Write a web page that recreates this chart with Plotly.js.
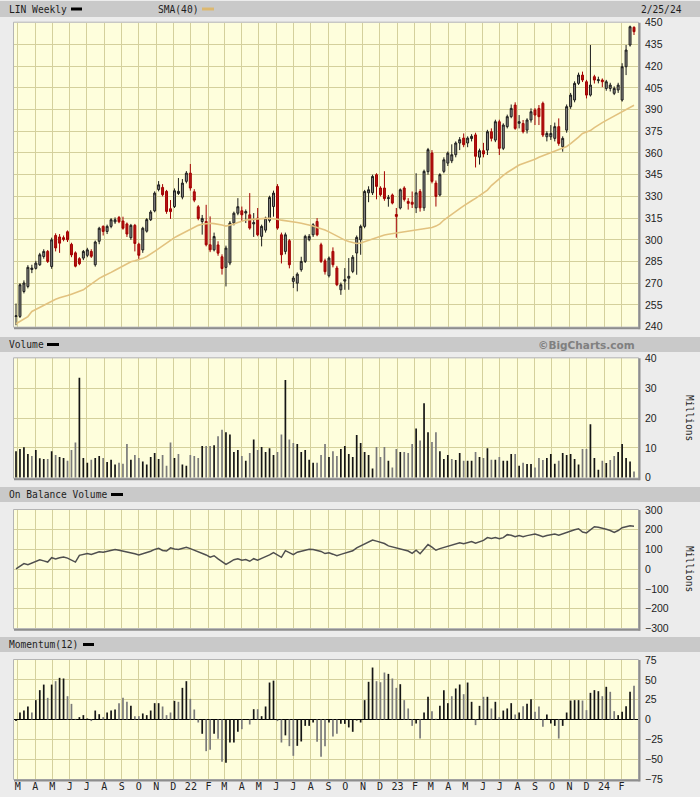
<!DOCTYPE html>
<html>
<head>
<meta charset="utf-8">
<script src="https://cdn.plot.ly/plotly-3.0.1.min.js"></script>
<style>
html,body{margin:0;padding:0;background:#ececec;}
#chart{width:700px;height:797px;}
</style>
</head>
<body>
<div id="chart"></div>
<script>
// ---------------- DATA ----------------
const symbol = "LIN";
const asOf = "2/25/24";
const firstWeekEnding = "2021-02-26";

const open = [247.0,247.1,264.3,267.8,279.5,280.3,282.8,288.5,292.0,281.6,
303.0,302.0,301.5,305.6,296.9,291.0,287.0,287.4,289.3,292.0,
282.8,299.0,309.3,305.8,309.3,312.4,315.5,313.0,311.0,301.5,
310.0,297.0,293.0,306.0,313.9,320.0,334.8,336.2,333.5,321.5,
323.0,332.0,329.5,340.4,346.1,333.2,322.8,312.7,312.7,296.6,
293.1,296.5,288.3,281.0,284.0,311.6,318.4,320.1,318.5,317.3,
311.0,315.0,302.4,306.7,313.4,323.0,336.9,303.5,292.0,299.4,
271.3,270.1,279.4,285.1,300.1,303.5,312.7,296.6,285.5,275.2,
292.0,280.5,265.5,271.5,273.5,278.2,290.9,300.0,309.3,332.5,
332.5,345.0,335.8,335.8,328.5,331.0,317.5,322.0,335.8,326.5,
326.0,322.1,333.4,322.1,347.1,360.0,339.2,331.0,347.3,353.0,
354.6,358.8,366.9,370.3,366.9,370.0,372.5,357.1,361.6,362.0,
374.7,368.9,381.6,363.2,378.2,385.1,393.1,380.5,380.4,375.8,
382.8,389.7,390.8,394.3,371.2,371.2,370.1,378.2,364.3,375.8,
392.0,396.6,408.1,413.8,409.2,400.0,412.7,410.0,410.4,404.6,
404.6,401.2,403.5,396.6,419.6,434.6,446.8];
const high = [256.0,270.0,272.0,282.5,282.8,285.5,291.0,293.5,293.0,301.5,
304.5,304.0,303.0,306.5,298.0,292.0,288.0,293.0,294.5,293.5,
299.5,309.0,310.0,310.5,315.0,315.5,316.5,316.0,312.0,311.0,
311.0,298.0,309.0,315.0,320.5,333.5,340.6,338.5,334.5,327.5,
335.5,342.7,342.0,347.5,352.4,335.0,324.0,317.2,324.2,316.2,
305.0,299.0,290.0,296.0,313.0,319.5,328.8,323.0,321.0,332.3,
318.5,322.0,310.5,316.0,330.5,334.0,338.5,305.0,305.0,300.5,
275.0,277.5,288.3,303.5,304.0,311.5,315.0,298.0,287.0,288.5,
294.8,282.0,270.5,280.5,287.4,289.5,303.0,310.5,334.5,337.0,
345.0,346.0,337.0,347.4,331.0,332.0,322.0,335.5,337.0,328.8,
333.4,346.0,335.0,348.5,363.5,362.0,341.0,346.0,357.0,361.0,
366.0,368.0,371.0,373.5,371.5,373.0,374.0,363.0,367.0,376.0,
377.0,383.0,383.0,380.5,386.5,393.5,395.0,386.2,382.8,384.0,
390.8,391.0,393.1,395.5,375.0,379.3,381.0,383.9,371.5,393.5,
401.5,409.5,415.5,416.2,410.5,434.6,414.0,412.7,411.5,410.5,
408.5,406.0,408.5,422.0,434.6,448.0,447.5];
const low = [241.0,246.0,263.0,266.5,277.0,279.5,282.0,287.0,284.0,280.0,
292.0,291.0,299.0,298.5,288.0,281.0,282.5,286.0,288.0,287.5,
281.5,297.0,303.0,304.0,308.0,311.0,311.5,307.0,302.0,300.0,
292.0,286.0,291.0,305.0,313.0,319.0,333.5,330.0,318.0,314.5,
322.0,331.0,328.0,339.0,334.0,326.0,313.5,303.6,295.5,291.5,
292.0,289.0,276.0,267.8,282.5,310.0,317.0,313.0,311.6,307.0,
302.0,302.5,295.5,305.0,312.0,316.0,307.0,283.7,290.0,280.3,
266.7,264.4,278.0,284.0,299.0,302.0,302.5,284.0,276.0,274.0,
281.0,268.0,262.0,265.5,265.5,277.0,275.9,289.7,308.0,326.0,
331.0,328.0,330.0,327.0,322.9,324.5,301.5,321.0,326.5,320.9,
322.0,318.5,319.5,320.0,345.0,339.0,323.0,330.0,346.0,351.0,
353.0,357.0,362.0,364.0,364.0,368.0,350.0,352.0,357.0,358.6,
368.0,367.5,358.6,362.0,377.0,384.0,376.0,377.0,373.5,373.5,
381.0,379.3,379.3,371.0,368.0,369.0,368.0,365.0,360.9,374.0,
390.5,395.0,407.0,409.0,397.7,399.0,408.0,408.1,405.5,403.0,
402.5,400.0,401.5,395.5,413.8,433.5,441.5];
const close = [247.5,269.0,270.2,281.0,280.5,283.9,289.7,292.0,285.1,300.0,
294.4,297.7,300.3,300.0,289.6,281.8,283.5,292.0,293.1,288.6,
298.5,308.0,305.8,309.3,313.9,313.9,312.5,308.0,304.0,310.0,
297.5,289.3,308.0,314.0,319.2,332.3,338.0,331.2,319.6,319.5,
333.9,333.5,339.2,346.1,335.8,327.4,314.8,314.8,296.6,293.1,
302.3,290.8,280.2,294.3,311.6,318.4,322.9,317.3,319.5,308.1,
311.9,303.5,309.3,315.0,329.3,332.3,308.1,289.7,303.5,282.8,
273.6,276.3,285.1,302.4,302.4,310.4,303.5,285.1,278.0,287.4,
282.8,269.0,269.0,272.5,274.8,288.0,301.7,309.3,333.4,334.6,
343.8,336.9,331.2,328.5,329.1,325.4,316.2,334.6,327.9,325.2,
324.6,332.5,322.1,347.3,362.3,340.4,330.0,345.0,355.3,359.9,
358.8,366.9,369.2,365.7,370.3,371.5,357.7,361.6,359.3,374.7,
370.1,381.6,363.2,379.3,385.1,390.8,377.0,381.6,374.7,382.8,
388.5,386.2,385.1,372.4,373.5,373.5,378.2,366.6,370.1,392.0,
400.0,408.1,413.8,410.4,400.0,406.9,410.4,410.6,409.2,409.2,
406.9,404.6,406.9,419.6,431.1,447.2,443.8];
const sma40 = [242.0,243.5,245.0,247.0,250.5,252.0,253.5,255.0,256.5,258.0,
259.0,260.0,260.6,261.5,262.5,263.5,264.2,265.5,267.5,269.5,
271.5,273.4,274.8,276.0,277.5,279.0,280.5,282.0,283.5,284.9,
285.5,286.3,287.2,288.5,290.0,292.0,294.0,296.0,297.5,299.5,
301.5,303.0,304.5,306.0,307.5,309.0,310.0,310.8,311.4,311.5,
311.2,310.9,310.2,309.5,310.0,311.0,312.0,313.0,313.7,314.0,
314.3,314.6,314.8,314.8,314.8,314.6,314.2,313.6,313.3,312.9,
312.5,312.0,311.4,310.9,310.2,309.5,308.6,307.8,306.8,305.5,
304.0,302.5,301.0,299.8,298.8,298.0,297.5,297.8,298.7,299.8,
300.8,301.8,302.8,303.4,303.9,304.3,304.9,305.3,305.7,306.2,
306.8,307.1,307.5,307.8,307.9,308.5,309.5,311.0,313.7,315.5,
317.5,319.5,321.5,323.5,325.0,327.0,328.6,330.5,332.5,334.4,
337.5,340.0,342.5,344.5,346.5,348.5,350.0,351.7,352.6,353.5,
354.5,355.7,357.0,358.0,359.2,360.0,361.0,362.0,363.5,364.5,
366.5,368.5,371.0,373.5,374.7,375.5,377.5,379.5,381.0,382.5,
384.0,385.5,387.0,388.5,390.0,392.0,393.0];
const volumeM = [8.9,9.6,10.2,7.9,7.3,9.3,6.5,6.3,6.3,8.9,
7.6,6.9,6.6,5.7,9.3,11.8,33.5,6.6,5.0,6.0,
6.6,7.3,6.6,5.3,6.0,4.4,5.0,4.7,11.3,6.0,
7.6,6.6,5.4,4.4,6.9,8.3,6.3,7.6,4.0,11.8,
6.6,7.9,4.4,4.0,7.6,7.3,6.6,10.6,10.6,10.6,
10.9,13.9,16.1,15.2,14.5,8.6,9.3,7.3,5.7,8.3,
12.8,9.3,10.3,8.6,9.9,7.6,8.6,14.5,32.7,12.8,
11.6,11.3,8.6,9.3,6.0,5.0,5.0,7.6,11.3,6.9,
8.9,7.3,9.6,10.6,7.9,6.9,14.3,11.6,8.6,7.6,
3.1,10.3,6.9,10.3,5.7,3.4,9.6,8.6,8.6,8.3,
11.3,16.5,12.5,24.9,15.2,12.0,15.2,8.9,6.3,7.6,
6.3,5.9,8.3,5.7,5.7,5.7,8.6,6.9,6.6,9.9,
6.0,6.0,6.9,5.7,5.7,7.9,7.9,4.0,5.0,4.6,
4.6,3.4,6.6,5.9,6.6,7.9,4.7,5.7,8.3,7.6,
7.9,6.3,4.4,9.6,9.6,17.9,6.6,2.7,5.7,4.9,
5.9,7.3,8.6,11.3,6.6,5.4,2.1];
const obvM = [2,14,28,22,30,38,48,42,36,58,
52,58,62,56,47,36,70,76,79,74,
82,88,86,91,97,100,96,92,86,83,
78,72,78,84,91,100,106,95,92,108,
102,100,106,111,104,97,90,80,72,61,
68,52,38,24,36,48,53,45,49,40,
53,45,55,63,72,84,74,60,94,82,
74,86,92,98,101,100,96,90,79,83,
76,68,75,80,86,93,108,118,128,138,
148,142,137,130,118,113,108,104,99,92,
80,96,78,102,125,112,96,104,110,118,
124,130,134,129,136,140,132,139,146,160,
155,160,154,160,175,172,164,170,165,170,
176,178,172,165,171,176,178,172,180,188,
194,200,205,188,184,202,215,212,208,202,
196,186,196,210,215,220,218];
const momentum12 = [-2,8.8,11.3,16.4,8.8,24.4,37,44,27.3,44,
48.3,52.5,51.7,29.4,19.7,0.8,3,5.5,1.3,-2,
11.3,6.7,3,8.8,11.3,12.6,20.6,27.3,22.3,17.2,
4.2,4.2,7.6,5.5,11.3,20.6,20.6,16.4,5.5,8.8,
23.5,22.3,39.9,48.3,26,12.6,-3.8,-18,-39.9,-38.2,
-18,-24.4,-53.3,-54.6,-29,-29,-15.5,-12.2,0.5,-6.3,
13,13,4.2,16.4,46.6,49,-2,-29,-20,-33.6,
-45.8,-33.2,-27.7,-8,-8,-3.8,-28,-47,-33.6,-3.8,
-21.4,-18,-5.5,-5.5,-10,-15.5,-1.3,-3.8,24.4,47.5,
65.5,48.3,47,59.2,57.5,51.7,39.9,44.5,24.4,13.9,
-8,-5,-24,8.8,28.6,10.5,0.9,17.2,37,20.6,
29.4,39.1,44.1,31.9,46.6,22.3,-7.1,17.2,28.6,28.6,
13.9,22.3,2.9,11.3,13.9,20.6,6.3,8.8,16.8,19.7,
25.6,9.7,16.4,-9.2,6.3,-5,-8,-24,-8,8.8,
23.9,24.4,24.4,23.9,11.8,33.6,37,35.7,29.4,41.2,
34.9,10.5,5.5,9.7,16.8,34.9,42.4];
const monthLabels = ["M","A","M","J","J","A","S","O","N","D",
"22","F","M","A","M","J","J","A","S","O","N","D",
"23","F","M","A","M","J","J","A","S","O","N","D",
"24","F"];
const firstMonth = "2021-03-01";

// ---------------- derived x values ----------------
const DAY = 864e5;
const t0 = Date.parse(firstWeekEnding + "T00:00:00Z");
const dates = close.map((_, i) => new Date(t0 + i * 7 * DAY).toISOString().slice(0, 10));
const m0 = new Date(firstMonth + "T00:00:00Z");
const monthVals = monthLabels.map((_, k) =>
  new Date(Date.UTC(m0.getUTCFullYear(), m0.getUTCMonth() + k, 1)).toISOString().slice(0, 10));
const xStart = new Date(t0 - 3.55 * DAY).toISOString();
const xEnd = new Date(t0 + ((close.length - 1) * 7 + 7.05) * DAY).toISOString();
const dirColor = close.map((c, i) => (i === 0 || c >= close[i - 1]) ? "#151515" : "#7a7a7a");

// ---------------- geometry helpers (pixels -> paper) ----------------
const W = 700, H = 797;
const px = x => x / W;
const py = y => 1 - y / H;
const plotL = 14, plotR = 638;
const panels = [
  {top: 22.7, bot: 326.7},
  {top: 358.3, bot: 477.7},
  {top: 510, bot: 628.3},
  {top: 660, bot: 779}
];
const headers = [
  {top: 1, bot: 17, text: symbol + " Weekly", sw: [71, 82]},
  {top: 337, bot: 352, text: "Volume", sw: [47, 59]},
  {top: 487, bot: 502, text: "On Balance Volume", sw: [111, 123]},
  {top: 637, bot: 652, text: "Momentum(12)", sw: [83, 94]}
];

const GRID = "#d4d09c";
const monoFont = {family: "DejaVu Sans Mono", size: 9.6, color: "#1e1e1e"};
const numFont = {family: "Liberation Sans", size: 10.5, color: "#222"};

const shapes = [];
const annotations = [];
headers.forEach(h => {
  shapes.push({type: "rect", xref: "paper", yref: "paper", x0: 0, x1: 1,
    y0: py(h.bot), y1: py(h.top), fillcolor: "#c9c9c9", line: {width: 0}, layer: "below"});
  annotations.push({xref: "paper", yref: "paper", x: px(7), y: py((h.top + h.bot) / 2),
    xanchor: "left", yanchor: "middle", text: h.text, showarrow: false, font: monoFont});
  shapes.push({type: "rect", xref: "paper", yref: "paper", x0: px(h.sw[0]), x1: px(h.sw[1]),
    y0: py((h.top + h.bot) / 2 + 1.5), y1: py((h.top + h.bot) / 2 - 1.5),
    fillcolor: "#000", line: {width: 0}});
});
// SMA legend in top header
annotations.push({xref: "paper", yref: "paper", x: px(156), y: py(9), xanchor: "left", yanchor: "middle",
  text: "SMA(40)", showarrow: false, font: monoFont});
shapes.push({type: "rect", xref: "paper", yref: "paper", x0: px(202), x1: px(214),
  y0: py(10.5), y1: py(7.5), fillcolor: "#dcb870", line: {width: 0}});
annotations.push({xref: "paper", yref: "paper", x: px(639), y: py(9), xanchor: "left", yanchor: "middle",
  text: asOf, showarrow: false, font: monoFont});
annotations.push({xref: "paper", yref: "paper", x: px(637), y: py(344.5), xanchor: "right", yanchor: "middle",
  text: "<b>©BigCharts.com</b>", showarrow: false,
  font: {family: "DejaVu Sans", size: 10.5, color: "#808080"}});
[418, 569].forEach(yc => annotations.push({xref: "paper", yref: "paper", x: px(690), y: py(yc),
  xanchor: "center", yanchor: "middle", text: "Millions", textangle: 90, showarrow: false, font: monoFont}));

// plot frames
panels.forEach(p => {
  shapes.push({type: "rect", xref: "paper", yref: "paper", x0: px(plotL - 0.5), x1: px(plotR + 0.5),
    y0: py(p.bot + 0.5), y1: py(p.top - 0.5), line: {color: "#b5b5b5", width: 1}, fillcolor: "rgba(0,0,0,0)"});
  shapes.push({type: "line", xref: "paper", yref: "paper", x0: px(plotL), x1: px(plotR + 1.5),
    y0: py(p.bot + 1.5), y1: py(p.bot + 1.5), line: {color: "#8e8e8e", width: 2}});
  shapes.push({type: "line", xref: "paper", yref: "paper", x0: px(plotR + 1.5), x1: px(plotR + 1.5),
    y0: py(p.bot + 2.5), y1: py(p.top), line: {color: "#8e8e8e", width: 2}});
});

const yCommon = {side: "right", anchor: "x", showgrid: true, gridcolor: GRID, gridwidth: 1,
  zeroline: false, ticks: "", showline: false, tickfont: numFont, ticklabelstandoff: 6, fixedrange: true};

const traces = [
  {type: "candlestick", x: dates, open: open, high: high, low: low, close: close,
    xaxis: "x", yaxis: "y", whiskerwidth: 0, hoverinfo: "skip",
    increasing: {line: {color: "#1c1c1c", width: 1}, fillcolor: "#8d8d8d"},
    decreasing: {line: {color: "#a30000", width: 1}, fillcolor: "#b51414"}},
  {type: "scatter", mode: "lines", x: dates, y: sma40, xaxis: "x", yaxis: "y",
    line: {color: "#e2c27f", width: 1.6}, hoverinfo: "skip"},
  {type: "bar", x: dates, y: volumeM, xaxis: "x", yaxis: "y2",
    marker: {color: dirColor, line: {width: 0}}, width: 3 * DAY, hoverinfo: "skip"},
  {type: "scatter", mode: "lines", x: dates, y: obvM, xaxis: "x", yaxis: "y3",
    line: {color: "#4f4f4f", width: 1.5}, hoverinfo: "skip"},
  {type: "bar", x: dates, y: momentum12, xaxis: "x", yaxis: "y4",
    marker: {color: dirColor, line: {width: 0}}, width: 3 * DAY, hoverinfo: "skip"}
];

const layout = {
  width: W, height: H, margin: {l: 0, r: 0, t: 0, b: 0},
  paper_bgcolor: "#ececec", plot_bgcolor: "#fefedc", showlegend: false,
  xaxis: {type: "date", domain: [px(plotL), px(plotR)], range: [xStart, xEnd], anchor: "y4",
    tickmode: "array", tickvals: monthVals, ticktext: monthLabels, ticks: "",
    tickfont: {family: "DejaVu Sans Mono", size: 10, color: "#222"},
    showgrid: true, gridcolor: GRID, gridwidth: 1, zeroline: false, showline: false,
    rangeslider: {visible: false}, fixedrange: true},
  yaxis: Object.assign({}, yCommon, {domain: [py(panels[0].bot), py(panels[0].top)],
    range: [240, 450], tick0: 240, dtick: 15}),
  yaxis2: Object.assign({}, yCommon, {domain: [py(panels[1].bot), py(panels[1].top)],
    range: [0, 40], tick0: 0, dtick: 10}),
  yaxis3: Object.assign({}, yCommon, {domain: [py(panels[2].bot), py(panels[2].top)],
    range: [-300, 300], tick0: 0, dtick: 100}),
  yaxis4: Object.assign({}, yCommon, {domain: [py(panels[3].bot), py(panels[3].top)],
    range: [-75, 75], tick0: 0, dtick: 25, zeroline: true, zerolinecolor: "#000", zerolinewidth: 1.5}),
  shapes: shapes,
  annotations: annotations
};

Plotly.newPlot("chart", traces, layout, {staticPlot: true, displayModeBar: false});
</script>
</body>
</html>
